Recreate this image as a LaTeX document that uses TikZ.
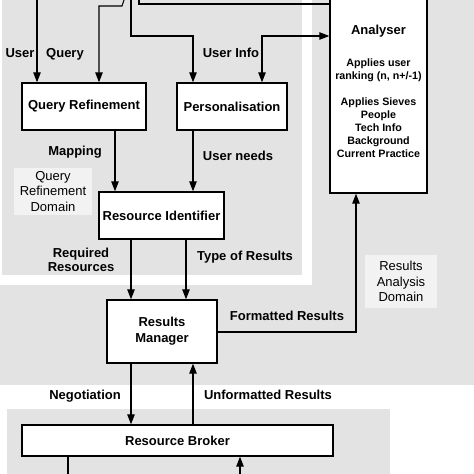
\documentclass[tikz,border=0pt]{standalone}
\usepackage{fontspec}
\setmainfont{Liberation Sans}
\usetikzlibrary{arrows.meta}

\begin{document}
\begin{tikzpicture}[x=1pt,y=-1pt,
    box/.style={draw,fill=white,line width=1.4pt,inner sep=0pt,align=center,
      font=\fontsize{13}{16}\selectfont\bfseries},
    lbl/.style={inner sep=0pt,align=center,font=\fontsize{13}{14}\selectfont\bfseries},
    domlbl/.style={fill=gray!10,inner sep=0pt,align=center,
      font=\fontsize{13}{15.5}\selectfont},
    link/.style={line width=1.1pt},
    arr/.style={link,-{Triangle[length=10pt,width=7.5pt]}},
    dblarr/.style={link,{Triangle[length=10pt,width=7.5pt]}-{Triangle[length=10pt,width=7.5pt]}}]
        \clip (0,0) rectangle (474,474);
        % domains
        \fill[gray!22] (0,0) rectangle (474,385);
        \fill[white] (0,0) rectangle (312,285);
        \fill[gray!22] (2,0) rectangle (302,275);
        \fill[gray!22] (7,409) rectangle (390,474);
        \node[domlbl,minimum width=78pt,minimum height=47pt] (qrdom) at (53,191.5)
          {Query\\Refinement\\Domain};
        \node[domlbl,minimum width=72pt,minimum height=53pt] (radom) at (401,281.5)
          {Results\\Analysis\\Domain};
        % boxes
        \node[box,minimum width=124pt,minimum height=47pt] (qr) at (84,106.5) {Query Refinement};
        \node[box,minimum width=110pt,minimum height=47pt] (pers) at (232,106.5) {Personalisation};
        \node[box,minimum width=125pt,minimum height=47pt] (ri) at (161.5,215.5) {Resource Identifier};
        \node[box,minimum width=97pt,minimum height=200pt] (an) at (378.5,93) {};
        \node[lbl,anchor=base] (antitle) at (378.5,34) {Analyser};
        \node[lbl,anchor=north,font=\fontsize{10.7}{13}\selectfont\bfseries] (antext) at (378.5,58.2)
          {Applies user\\ranking (n, n+/-1)\\[13pt]Applies Sieves\\People\\Tech Info\\Background\\Current Practice};
        \node[box,minimum width=110pt,minimum height=63pt] (rm) at (162,331.5) {Results\\Manager};
        \node[box,minimum width=311pt,minimum height=31pt] (rb) at (177.5,440.5) {Resource Broker};
        % free ends at the edge
        \coordinate (tuser) at (37,0);
        \coordinate (tquery) at (124,0);
        \coordinate (tinfo) at (131,0);
        \coordinate (tan) at (139,0);
        \coordinate (bout) at (68,474);
        \coordinate (bin) at (240,474);
        % connectors
        \draw[arr] (tuser) -- (qr.north -| tuser);
        \draw[arr] (tquery) -- ++(-2,6) -| (qr.north -| 99,0);
        \draw[arr] (tinfo) -- ++(0,36) -| (pers.north -| 193,0);
        \draw[link] (tan) |- (an.west |- 0,4);
        \draw[dblarr] (pers.north -| 262,0) |- (an.west |- 0,36);
        \draw[arr] (qr.south -| 115,0) -- (ri.north -| 115,0);
        \draw[arr] (pers.south -| 193,0) -- (ri.north -| 193,0);
        \draw[arr] (ri.south -| 131,0) -- (rm.north -| 131,0);
        \draw[arr] (ri.south -| 186,0) -- (rm.north -| 186,0);
        \draw[arr] (rm.east |- 0,332) -| (an.south -| 356,0);
        \draw[arr] (rm.south -| 131,0) -- (rb.north -| 131,0);
        \draw[arr] (rb.north -| 193,0) -- (rm.south -| 193,0);
        \draw[link] (rb.south -| bout) -- (bout);
        \draw[arr] (bin) -- (rb.south -| bin);
        % labels
        \node[lbl,anchor=base] (luser) at (20,57) {User};
        \node[lbl,anchor=base] (lquery) at (65,57) {Query};
        \node[lbl,anchor=base] (linfo) at (231,57) {User Info};
        \node[lbl,anchor=base] (lmap) at (75,155) {Mapping};
        \node[lbl,anchor=base] (lneeds) at (238,160) {User needs};
        \node[lbl] (lreq) at (81,259.5) {Required\\Resources};
        \node[lbl,anchor=base] (ltype) at (245,260) {Type of Results};
        \node[lbl,anchor=base] (lform) at (287,320) {Formatted Results};
        \node[lbl,anchor=base] (lneg) at (85,399) {Negotiation};
        \node[lbl,anchor=base] (lunf) at (268,399) {Unformatted Results};
      \end{tikzpicture}
\end{document}
